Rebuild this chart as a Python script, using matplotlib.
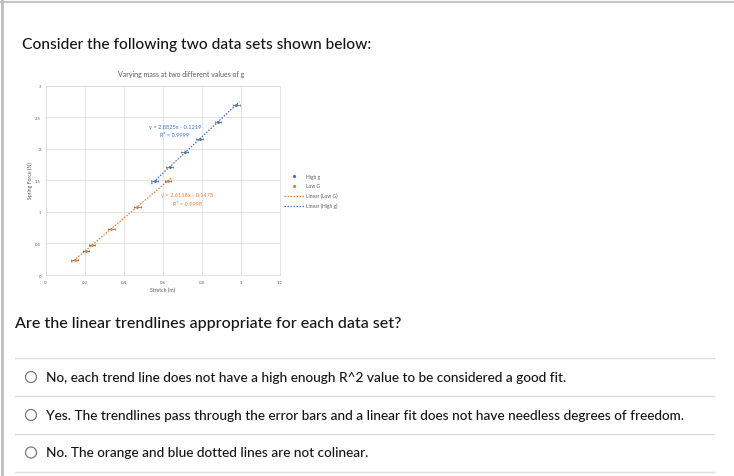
import matplotlib
matplotlib.use('Agg')
import matplotlib.pyplot as plt
from matplotlib.lines import Line2D
from matplotlib.patches import Circle

plt.rcParams['font.family'] = ['Lato', 'DejaVu Sans']

W, H = 734, 477

# ---------------- text content ----------------
heading = "Consider the following two data sets shown below:"
question = "Are the linear trendlines appropriate for each data set?"
options = [
    "No, each trend line does not have a high enough R^2 value to be considered a good fit.",
    "Yes. The trendlines pass through the error bars and a linear fit does not have needless degrees of freedom.",
    "No. The orange and blue dotted lines are not colinear.",
]

chart_title = "Varying mass at two different values of g"
x_label = "Stretch (m)"
y_label = "Spring Force (N)"
x_ticks = [0, 0.2, 0.4, 0.6, 0.8, 1, 1.2]
x_tick_labels = ["0", "0.2", "0.4", "0.6", "0.8", "1", "1.2"]
y_ticks = [0, 0.5, 1, 1.5, 2, 2.5, 3]
y_tick_labels = ["0", "0.5", "1", "1.5", "2", "2.5", "3"]

# ---------------- data ----------------
high_name = "High g"
high_x = [0.560, 0.637, 0.714, 0.790, 0.884, 0.978]
high_y = [1.495, 1.706, 1.944, 2.155, 2.430, 2.699]
low_name = "Low G"
low_x = [0.150, 0.207, 0.239, 0.338, 0.471, 0.628]
low_y = [0.243, 0.386, 0.475, 0.724, 1.083, 1.495]
x_err = 0.017

high_slope, high_intercept = 2.8825, -0.1219
low_slope, low_intercept = 2.6118, -0.1475
high_eq = "y = 2.8825x - 0.1219"
high_r2 = "R² = 0.9999"
low_eq = "y = 2.6118x - 0.1475"
low_r2 = "R² = 0.9998"
high_trend_name = "Linear (High g)"
low_trend_name = "Linear (Low G)"

BLUE = "#4472C4"
ORANGE = "#ED7D31"
GRAY_TXT = "#595959"
GRID = "#d9d9d9"
DARK = "#151515"

fig = plt.figure(figsize=(W / 100, H / 100), dpi=100)

# ---------------- page layer (pixel coordinates) ----------------
page = fig.add_axes([0, 0, 1, 1])
page.set_xlim(0, W)
page.set_ylim(H, 0)
page.axis('off')

page.plot([0, W], [2.5, 2.5], color="#c4c4c4", lw=1.5)
page.plot([1.5, 1.5], [0, H], color="#bdbdbd", lw=2)

t_head = page.text(22, 45, heading, ha='left', va='center', fontsize=12.5,
                   color=DARK, fontweight=500)
t_q = page.text(15, 324, question, ha='left', va='center', fontsize=12.5,
                color=DARK, fontweight=500)

sep_y = [358.5, 397.3, 434.5, 472.7]
for y in sep_y:
    page.plot([15, 714], [y, y], color="#dedede", lw=1)

opt_y = [378, 416, 453.5]
t_opts = []
for y, s in zip(opt_y, options):
    page.add_patch(Circle((31, y), 5.5, facecolor='white', edgecolor='#7a7a7a', lw=0.9))
    t_opts.append(page.text(46, y, s, ha='left', va='center', fontsize=10,
                            color=DARK, fontweight=500))

# fit text widths to the reference
fig.canvas.draw()
rend = fig.canvas.get_renderer()
def width(t):
    return t.get_window_extent(renderer=rend).width
t_head.set_fontsize(t_head.get_fontsize() * 350 / width(t_head))
t_q.set_fontsize(t_q.get_fontsize() * 387 / width(t_q))
scale = 639 / width(t_opts[1])
for t in t_opts:
    t.set_fontsize(t.get_fontsize() * scale)

# ---------------- chart ----------------
ax = fig.add_axes([45.5 / W, 1 - 276 / H, 234 / W, 189.3 / H])
ax.set_xlim(0, 1.2)
ax.set_ylim(0, 3)
ax.set_axisbelow(True)
ax.grid(True, color=GRID, lw=0.5)
for sp in ax.spines.values():
    sp.set_color(GRID)
    sp.set_linewidth(0.5)
ax.set_xticks(x_ticks, x_tick_labels)
ax.set_yticks(y_ticks, y_tick_labels)
ax.tick_params(length=0, labelsize=3.1, labelcolor=GRAY_TXT)
ax.tick_params(axis='y', pad=3.2)
ax.tick_params(axis='x', pad=3.6)

# trendlines
hx = [min(high_x) - x_err, max(high_x) + x_err]
lx = [min(low_x) - x_err, max(low_x) + x_err]
ax.plot(hx, [high_slope * v + high_intercept for v in hx], color=BLUE, lw=0.9,
        ls=(0, (1.2, 1.2)), zorder=2)
ax.plot(lx, [low_slope * v + low_intercept for v in lx], color=ORANGE, lw=0.9,
        ls=(0, (1.2, 1.2)), zorder=2)

# data with error bars
ax.errorbar(high_x, high_y, xerr=x_err, fmt='o', ms=1.1, mfc=BLUE, mec=BLUE,
            ecolor='#4a4a4a', elinewidth=0.45, capsize=1.0, capthick=0.45, zorder=3)
ax.errorbar(low_x, low_y, xerr=x_err, fmt='o', ms=1.1, mfc=ORANGE, mec=ORANGE,
            ecolor='#4a4a4a', elinewidth=0.45, capsize=1.0, capthick=0.45, zorder=3)

# trendline equations
ax.text(0.663, 2.35, high_eq, ha='center', va='center', fontsize=4.1, color=BLUE)
ax.text(0.663, 2.23, high_r2, ha='center', va='center', fontsize=4.1, color=BLUE)
ax.text(0.728, 1.268, low_eq, ha='center', va='center', fontsize=4.1, color=ORANGE)
ax.text(0.728, 1.141, low_r2, ha='center', va='center', fontsize=4.1, color=ORANGE)

# titles / labels
fig.text(180.7 / W, 1 - 75 / H, chart_title, ha='center', va='center', fontsize=5.0, color=GRAY_TXT)
fig.text(162.5 / W, 1 - 290 / H, x_label, ha='center', va='center', fontsize=3.7, color=GRAY_TXT)
fig.text(30 / W, 1 - 181 / H, y_label, ha='center', va='center', rotation=90, fontsize=3.7, color=GRAY_TXT)

handles = [
    Line2D([], [], marker='o', ls='none', ms=1.3, color=BLUE, label=high_name),
    Line2D([], [], marker='o', ls='none', ms=1.3, color=ORANGE, label=low_name),
    Line2D([], [], color=ORANGE, lw=0.9, ls=(0, (1.2, 1.2)), label=low_trend_name),
    Line2D([], [], color=BLUE, lw=0.9, ls=(0, (1.2, 1.2)), label=high_trend_name),
]
ax.legend(handles=handles, loc='center left', bbox_to_anchor=(284 / W, 1 - 192 / H),
          bbox_transform=fig.transFigure, frameon=False, fontsize=3.5,
          labelcolor=GRAY_TXT, handlelength=4.2, handletextpad=0.4,
          labelspacing=0.95, borderaxespad=0, borderpad=0)

fig.savefig('out.png', dpi=100)
